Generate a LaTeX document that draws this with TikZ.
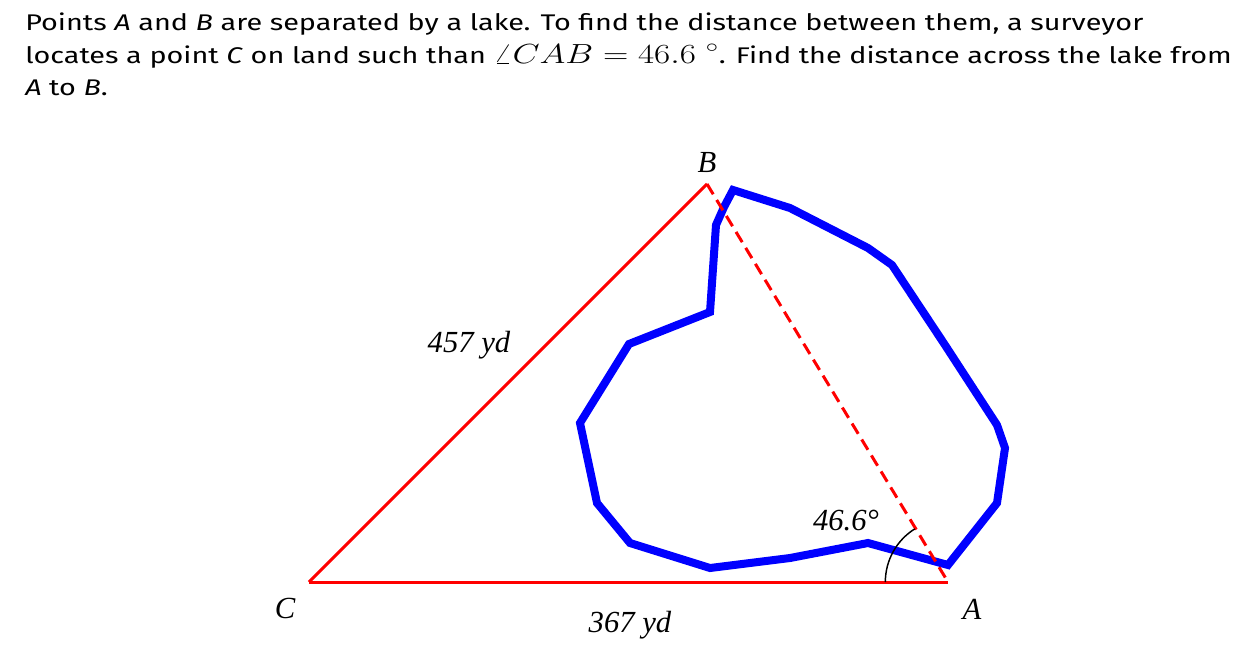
\documentclass[tikz,border=0pt]{standalone}
\usepackage{fontspec}
\setmainfont{Fira Sans}
\newfontfamily\labelfont{Liberation Serif}
\usepackage{graphicx}
\usepackage{tikz}

\newcommand{\wide}[1]{\scalebox{1.27}[1]{#1}}

\tikzset{
  side/.style={red, line width=2.25pt},
  lake/.style={blue, line width=6pt, line join=miter},
  lbl/.style={font=\labelfont\itshape\fontsize{23}{26}\selectfont, inner sep=0pt},
  txt/.style={font=\fontsize{17}{24}\selectfont, anchor=base west, inner sep=0pt}
}

\begin{document}
\begin{tikzpicture}[x=0.75pt, y=-0.75pt]
        \useasboundingbox (0,0) rectangle (1249,647);

        % Question text
        \node[txt] (line1) at (25,30) {\wide{Points \textit{A} and \textit{B} are separated by a lake. To find the distance between them, a surveyor}};
        \node[txt] (line2) at (25,63) {\wide{locates a point \textit{C} on land such than {\fontsize{20}{24}\selectfont$\angle CAB = 46.6\;^{\circ}$}. Find the distance across the lake from}};
        \node[txt] (line3) at (25,95) {\wide{\textit{A} to \textit{B}.}};

        % Points
        \coordinate (C) at (309,582);
        \coordinate (A) at (948,582);
        \coordinate (B) at (707,184);

        % Lake
        \draw[lake] (733,190) -- (790,208) -- (868,248) -- (892,265) -- (945,345)
            -- (997,425) -- (1005,448) -- (997,503) -- (948,565) -- (868,543)
            -- (790,558) -- (710,568) -- (630,543) -- (597,503) -- (580,423)
            -- (629,344) -- (710,312) -- (716,225) -- (724,207) -- cycle;

        % Triangle sides
        \draw[side] (C) -- (A);
        \draw[side] (C) -- (B);
        \draw[side, dash pattern=on 9pt off 5pt] (B) -- (A);

        % Angle at A
        \draw[black, line width=1.1pt] (A) ++(180:47pt) arc[start angle=180, end angle=122, radius=47pt];

        % Labels
        \node[lbl] (labB) at (707,162) {B};
        \node[lbl] (labC) at (285,608) {C};
        \node[lbl] (labA) at (972,609) {A};
        \node[lbl] (labCB) at (469,345) {457 yd};
        \node[lbl] (labCA) at (630,625) {367 yd};
        \node[lbl] (labang) at (846,521) {46.6\textdegree};
    \end{tikzpicture}
\end{document}
